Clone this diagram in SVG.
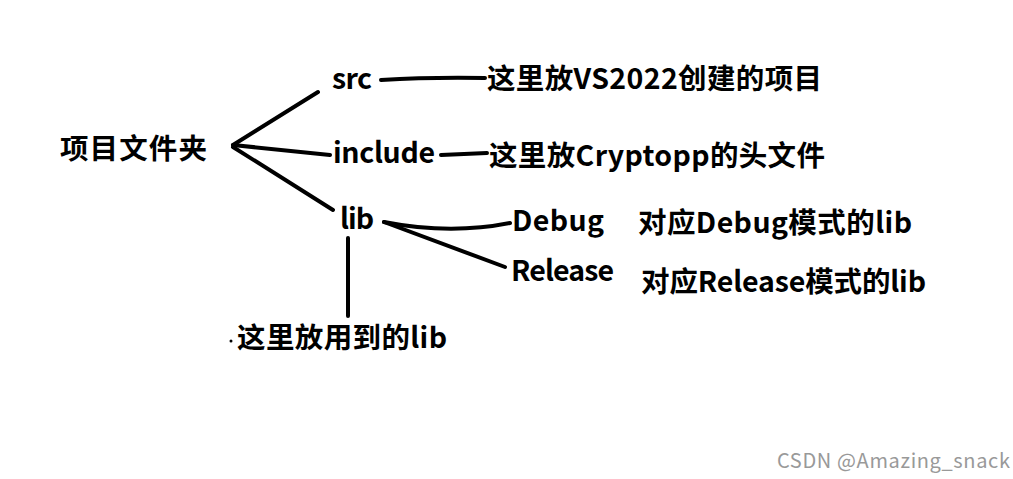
<svg xmlns="http://www.w3.org/2000/svg" width="1013" height="479" viewBox="0 0 1013 479">
<style>
text{font-family:"Noto Sans CJK SC","Noto Sans",sans-serif;font-weight:bold;font-size:28.5px;fill:#000}
.c{stroke:#000;stroke-width:4;fill:none;stroke-linecap:round}
.w{font-weight:normal;font-size:20px;fill:#999}
</style>
<rect width="1013" height="479" fill="#fff"/>
<g id="connectors">
<path class="c" d="M233 145 L318 92"/>
<path class="c" d="M233 145 L330 155"/>
<path class="c" d="M233 147 L333 210"/>
<path class="c" d="M381 80 Q430 77 485 78"/>
<path class="c" d="M441 155 L487 153"/>
<path class="c" d="M384 222 Q450 235 510 223"/>
<path class="c" d="M384 222 L505 267"/>
<path class="c" d="M348 238 L348 316"/>
<circle cx="231" cy="341" r="1.5" fill="#000"/>
</g>
<g id="root"><text x="60" y="159" textLength="147">项目文件夹</text></g>
<g id="src"><text x="332" y="89" textLength="40">src</text></g>
<g id="include"><text x="333" y="163" textLength="102">include</text></g>
<g id="lib"><text x="340" y="229" textLength="34">lib</text></g>
<g id="debug"><text x="512" y="231" textLength="92">Debug</text></g>
<g id="release"><text x="511" y="281" textLength="103">Release</text></g>
<g id="src-note"><text x="487" y="89" textLength="335">这里放VS2022创建的项目</text></g>
<g id="include-note"><text x="489" y="166" textLength="336">这里放Cryptopp的头文件</text></g>
<g id="debug-note"><text x="638" y="233" textLength="274">对应Debug模式的lib</text></g>
<g id="release-note"><text x="641" y="292" textLength="285">对应Release模式的lib</text></g>
<g id="lib-note"><text x="237" y="348" textLength="210">这里放用到的lib</text></g>
<text class="w" x="777" y="468" textLength="233">CSDN @Amazing_snack</text>
</svg>
